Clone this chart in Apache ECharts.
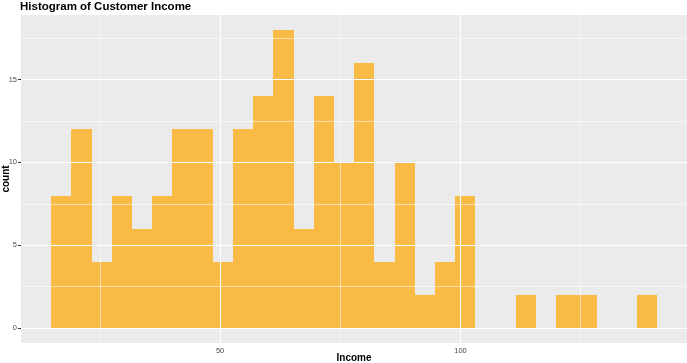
<!DOCTYPE html>
<html>
<head>
<meta charset="utf-8">
<script src="https://cdn.jsdelivr.net/npm/echarts@6/dist/echarts.min.js"></script>
<style>
html,body{margin:0;padding:0;background:#fff;}
#chart{width:687px;height:363px;}
</style>
</head>
<body>
<div id="chart"></div>
<script>
// Histogram bin edges (Income) and counts per bin
var binEdges = [14.9, 19.1, 23.3, 27.5, 31.7, 35.9, 40.1, 44.3, 48.5, 52.7, 56.9,
                61.1, 65.3, 69.5, 73.7, 77.9, 82.1, 86.3, 90.5, 94.7, 98.9,
                103.1, 107.3, 111.5, 115.7, 119.9, 124.1, 128.3, 132.5, 136.7, 140.9];
var counts = [8, 12, 4, 8, 6, 8, 12, 12, 4, 12, 14, 18, 6, 14, 10, 16, 4, 10, 2, 4, 8,
              0, 0, 2, 0, 2, 2, 0, 0, 2];
var xTicks = [50, 100];
var yTicks = [0, 5, 10, 15];
var xMinorGrid = [25, 75, 125];
var yMinorGrid = [2.5, 7.5, 12.5, 17.5];

var barData = counts.map(function (c, i) { return [binEdges[i], binEdges[i + 1], c]; });

var chart = echarts.init(document.getElementById('chart'), null, {renderer: 'canvas'});
var font = 'Liberation Sans, Arial, Helvetica, sans-serif';

function gridMark(list, axis, width) {
  return list.map(function (v) {
    var o = {}; o[axis] = v;
    o.lineStyle = {color: '#ffffff', width: width, type: 'solid'};
    return o;
  });
}

chart.setOption({
  animation: false,
  backgroundColor: '#ffffff',
  title: {
    text: 'Histogram of Customer Income',
    left: 20, top: 1, padding: 0,
    textStyle: {fontFamily: font, fontWeight: 'bold', fontSize: 11.5, color: '#000'}
  },
  grid: {
    left: 21, right: 0, top: 15, bottom: 20,
    containLabel: false, outerBoundsMode: 'none',
    show: true, backgroundColor: '#EBEBEB', borderWidth: 0
  },
  xAxis: {
    type: 'value', min: 8.6, max: 147.1,
    name: 'Income', nameLocation: 'middle', nameGap: 10, nameMoveOverlap: false,
    nameTextStyle: {fontFamily: font, fontWeight: 'bold', fontSize: 10, color: '#000'},
    axisLine: {show: false},
    axisTick: {show: true, length: 3, lineStyle: {color: '#333333'}, customValues: xTicks},
    axisLabel: {show: true, margin: 4, fontFamily: font, fontSize: 7.5, color: '#4D4D4D', customValues: xTicks},
    splitLine: {show: false}
  },
  yAxis: {
    type: 'value', min: -0.9, max: 18.9,
    name: 'count', nameLocation: 'middle', nameGap: 10, nameRotate: 90, nameMoveOverlap: false,
    nameTextStyle: {fontFamily: font, fontWeight: 'bold', fontSize: 10, color: '#000'},
    axisLine: {show: false},
    axisTick: {show: true, length: 3, lineStyle: {color: '#333333'}, customValues: yTicks},
    axisLabel: {show: true, margin: 4, fontFamily: font, fontSize: 7.5, color: '#4D4D4D', customValues: yTicks},
    splitLine: {show: false}
  },
  series: [
    {
      type: 'line', data: [], z: 1, silent: true,
      markLine: {
        silent: true, symbol: 'none', animation: false,
        label: {show: false},
        data: gridMark(xMinorGrid, 'xAxis', 0.55)
          .concat(gridMark(yMinorGrid, 'yAxis', 0.55))
          .concat(gridMark(xTicks, 'xAxis', 1.1))
          .concat(gridMark(yTicks, 'yAxis', 1.1))
      }
    },
    {
      type: 'custom', z: 2,
      data: barData,
      encode: {x: [0, 1], y: 2},
      renderItem: function (params, api) {
        var c = api.value(2);
        if (!c) return null;
        var p0 = api.coord([api.value(0), c]);
        var p1 = api.coord([api.value(1), 0]);
        var x0 = Math.round(p0[0]), x1 = Math.round(p1[0]);
        var y0 = Math.round(p0[1]), y1 = Math.round(p1[1]);
        return {
          type: 'rect',
          shape: {x: x0, y: y0, width: x1 - x0, height: y1 - y0},
          style: {fill: 'rgba(255,165,0,0.7)'}
        };
      }
    }
  ]
});
</script>
</body>
</html>
